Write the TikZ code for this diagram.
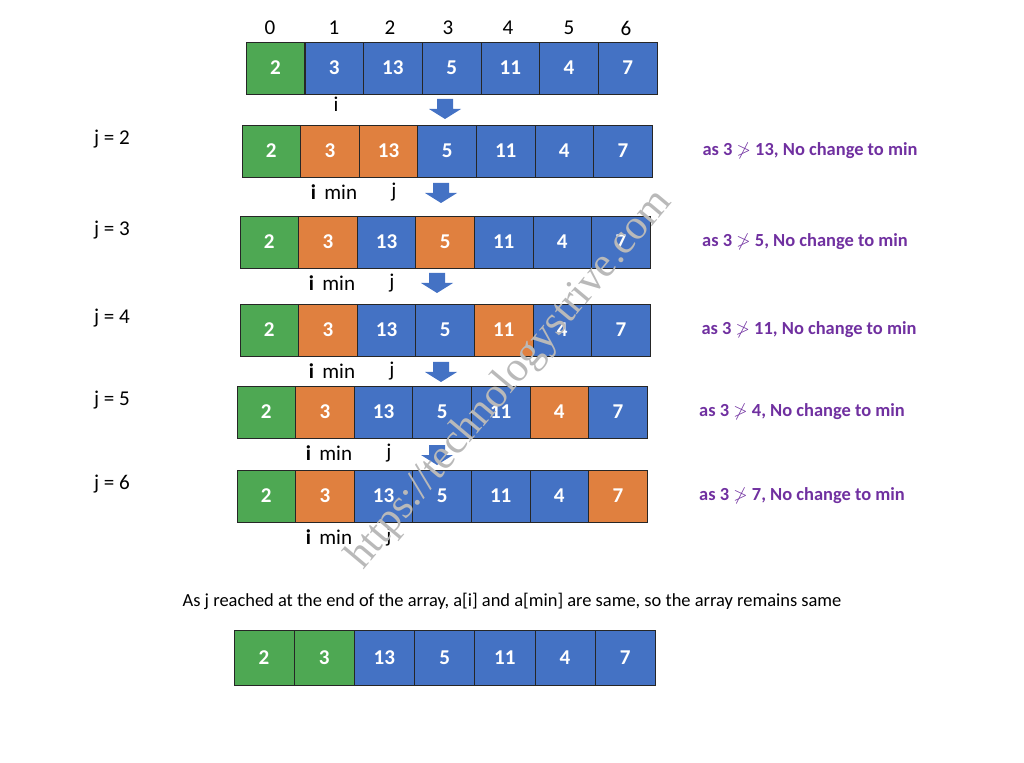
\documentclass[tikz,border=0pt]{standalone}
\usepackage{amssymb}
\usepackage{fontspec}
\setmainfont{Carlito}
\usetikzlibrary{positioning}

\definecolor{cgreen}{HTML}{4EA853}
\definecolor{cblue}{HTML}{4472C4}
\definecolor{corange}{HTML}{E0803F}
\definecolor{cpurple}{HTML}{7030A0}

\begin{document}
\begin{tikzpicture}[
  x=0.02cm, y=-0.02cm,
  cell/.style={draw=black!85, fill=cblue, minimum width=1.172cm, minimum height=1.04cm,
    inner sep=0pt, text=white, font=\bfseries\large},
  lbl/.style={font=\large},
  note/.style={text=cpurple, font=\bfseries\fontsize{10.5}{12}\selectfont},
  down/.pic={\fill[cblue] (-8,-10) -- (8,-10) -- (8,0) -- (16,0) -- (0,10) -- (-16,0) -- (-8,0) -- cycle;}
]
\useasboundingbox (0,0) rectangle (1024,763);

% starting array with indexes
\foreach \v [count=\k from 0] in {2,3,13,5,11,4,7} {
  \ifnum\k=0 \def\c{cgreen}\else\def\c{cblue}\fi
  \node[cell, fill=\c] (a\k) at ({275.5+58.7*\k},68) {\v};
}
\foreach \t/\x in {0/270,1/334,2/390,3/448,4/508,5/569,6/626}
  \node[lbl] (ix\t) at (\x,28) {\t};
\node[lbl] (i0) at (336,104) {i};
\coordinate (d0) at (445,109);
\pic at (d0) {down};

% passes j = 2 .. 6
\foreach \r/\xl/\yc/\xn/\val in {2/242/151/810/13,3/240/242/805/5,
    4/240/330/809/11,5/237/412/802/4,6/237/496/802/7} {
  \foreach \v [count=\k from 0] in {2,3,13,5,11,4,7} {
    \ifnum\k=0 \def\c{cgreen}\else
      \ifnum\k=1 \def\c{corange}\else
        \ifnum\k=\r \def\c{corange}\else\def\c{cblue}\fi\fi\fi
    \node[cell, fill=\c] (r\r c\k) at ({\xl+29.3+58.6*\k},\yc) {\v};
  }
  \node[lbl] (j\r) at (112,\yc-12) {j = \r};
  \node[lbl] (m\r) at ({\xl+92},\yc+41) {\textbf{i}\, min};
  \node[lbl] (jj\r) at ({\xl+152},\yc+41) {j};
  \node[note] (t\r) at (\xn,\yc) {as 3 $\ngtr$ \val, No change to min};
}
\foreach \r/\xa/\ya in {2/441/193,3/437/283,4/441/372,5/437/455} {
  \coordinate (d\r) at (\xa,\ya);
  \pic at (d\r) {down};
}

% final array
\node[font=\fontsize{10.5}{12}\selectfont] (cap) at (512,601) {As j reached at the end of the array, a[i] and a[min] are same, so the array remains same};
\foreach \v [count=\k from 0] in {2,3,13,5,11,4,7} {
  \ifnum\k<2 \def\c{cgreen}\else\def\c{cblue}\fi
  \node[cell, fill=\c, minimum width=1.204cm, minimum height=1.1cm] (f\k) at ({264+60.2*\k},658) {\v};
}

% watermark
\node[rotate=50, text=gray!55, font=\fontspec{Liberation Serif}\fontsize{24}{24}\selectfont] (wm) at (510,380) {https://technologystrive.com};
\end{tikzpicture}
\end{document}
